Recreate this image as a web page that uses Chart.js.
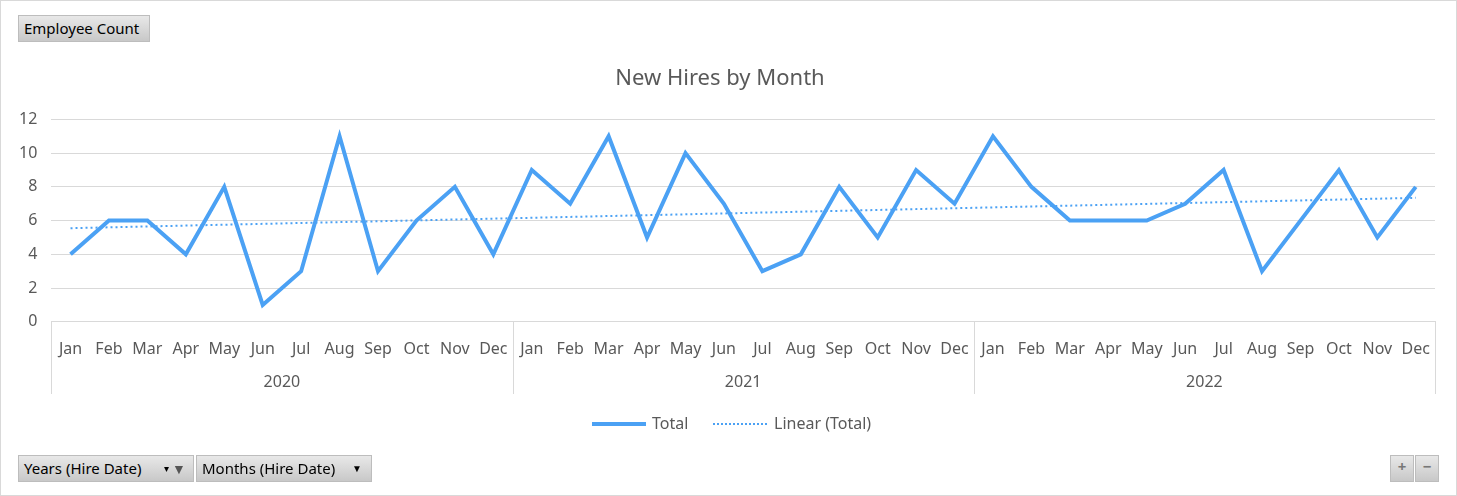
<!DOCTYPE html>
<html><head><meta charset="utf-8">
<script src="https://cdn.jsdelivr.net/npm/chart.js@4/dist/chart.umd.min.js"></script>
<style>
html,body{margin:0;padding:0;background:#fff;}
#wrap{position:relative;width:1457px;height:496px;box-sizing:border-box;border:1px solid #d9d9d9;}
canvas{position:absolute;left:0;top:0;}
.btn{position:absolute;background:linear-gradient(#e8e8e8,#c8c8c8);border:1px solid #bdbdbd;font:15px "Noto Sans",sans-serif;color:#000;box-sizing:border-box;padding:2px 5px;height:27px;line-height:21px;}
</style></head><body>
<div id="wrap">
<canvas id="c" width="1455" height="494"></canvas>
<div class="btn" style="left:17px;top:14px;width:132px;">Employee Count</div>
<div class="btn" style="left:17px;top:454px;width:176px;">Years (Hire Date) <span style="position:absolute;left:145px;font-size:10px">▾</span><span style="position:absolute;left:153px;font-size:14px;color:#555">▼</span></div>
<div class="btn" style="left:195px;top:454px;width:176px;">Months (Hire Date) <span style="position:absolute;left:155px;font-size:10px">▼</span></div>
<div class="btn" style="left:1389px;top:454px;width:24px;padding:0;text-align:center;font-weight:bold;color:#777">+</div>
<div class="btn" style="left:1414px;top:454px;width:24px;padding:0;text-align:center;font-weight:bold;color:#777">−</div>
</div>
<script>
const years = ["2020","2021","2022"];
const months = ["Jan","Feb","Mar","Apr","May","Jun","Jul","Aug","Sep","Oct","Nov","Dec"];
const total2020 = [4,6,6,4,8,1,3,11,3,6,8,4];
const total2021 = [9,7,11,5,10,7,3,4,8,5,9,7];
const total2022 = [11,8,6,6,6,7,9,3,6,9,5,8];
const trendStart = 5.55, trendEnd = 7.35;
const yTicks = [0,2,4,6,8,10,12];

const labels = [].concat(months, months, months);
const totals = [].concat(total2020, total2021, total2022);
const trend = labels.map((_, i) => i === 0 ? trendStart : (i === labels.length - 1 ? trendEnd : null));
const blue = '#4BA1F4';
const txt = '#595959';
const font = '"Noto Sans", sans-serif';

const extras = {
  id: 'extras',
  afterDraw(chart) {
    const ctx = chart.ctx, x = chart.scales.x, a = chart.chartArea;
    const step = (x.getPixelForValue(1) - x.getPixelForValue(0));
    const left = x.getPixelForValue(0) - step / 2;
    ctx.save();
    ctx.strokeStyle = '#d9d9d9'; ctx.lineWidth = 1;
    for (let g = 0; g <= years.length; g++) {
      const px = Math.round(left + g * 12 * step) + 0.5;
      ctx.beginPath(); ctx.moveTo(px, a.bottom); ctx.lineTo(px, 393); ctx.stroke();
    }
    ctx.fillStyle = txt; ctx.font = '16px ' + font; ctx.textAlign = 'center'; ctx.textBaseline = 'middle';
    years.forEach((y, g) => ctx.fillText(y, left + (g * 12 + 6) * step, 381));
    const ly = 423;
    ctx.lineWidth = 4; ctx.strokeStyle = blue;
    ctx.beginPath(); ctx.moveTo(591, ly); ctx.lineTo(645, ly); ctx.stroke();
    ctx.textAlign = 'left';
    ctx.fillText('Total', 651, ly);
    ctx.lineWidth = 2; ctx.setLineDash([2, 2]);
    ctx.beginPath(); ctx.moveTo(712, ly); ctx.lineTo(766, ly); ctx.stroke();
    ctx.setLineDash([]);
    ctx.fillText('Linear (Total)', 773, ly);
    ctx.restore();
  }
};

new Chart(document.getElementById('c'), {
  type: 'line',
  data: { labels, datasets: [
    { label: 'Total', data: totals, borderColor: blue, borderWidth: 4, pointRadius: 0, tension: 0, fill: false },
    { label: 'Linear (Total)', data: trend, borderColor: blue, borderWidth: 2, borderDash: [2, 3], pointRadius: 0, spanGaps: true, fill: false }
  ]},
  options: {
    responsive: false, animation: false,
    layout: { padding: { left: 4, right: 21, top: 0, bottom: 126 } },
    plugins: {
      legend: { display: false }, tooltip: { enabled: false },
      title: { display: true, text: 'New Hires by Month', color: txt, font: { family: font, size: 22, weight: 'normal' }, padding: { top: 65, bottom: 27 } }
    },
    scales: {
      x: { offset: true, grid: { display: false }, border: { color: '#d9d9d9' },
        ticks: { color: txt, font: { family: font, size: 16 }, maxRotation: 0, autoSkip: false, padding: 10 } },
      y: { min: 0, max: 12, afterBuildTicks: s => { s.ticks = yTicks.map(v => ({ value: v })); },
        grid: { color: '#d9d9d9', drawTicks: false }, border: { display: false },
        ticks: { color: txt, font: { family: font, size: 16 }, padding: 14 } }
    }
  },
  plugins: [extras]
});
</script>
</body></html>
